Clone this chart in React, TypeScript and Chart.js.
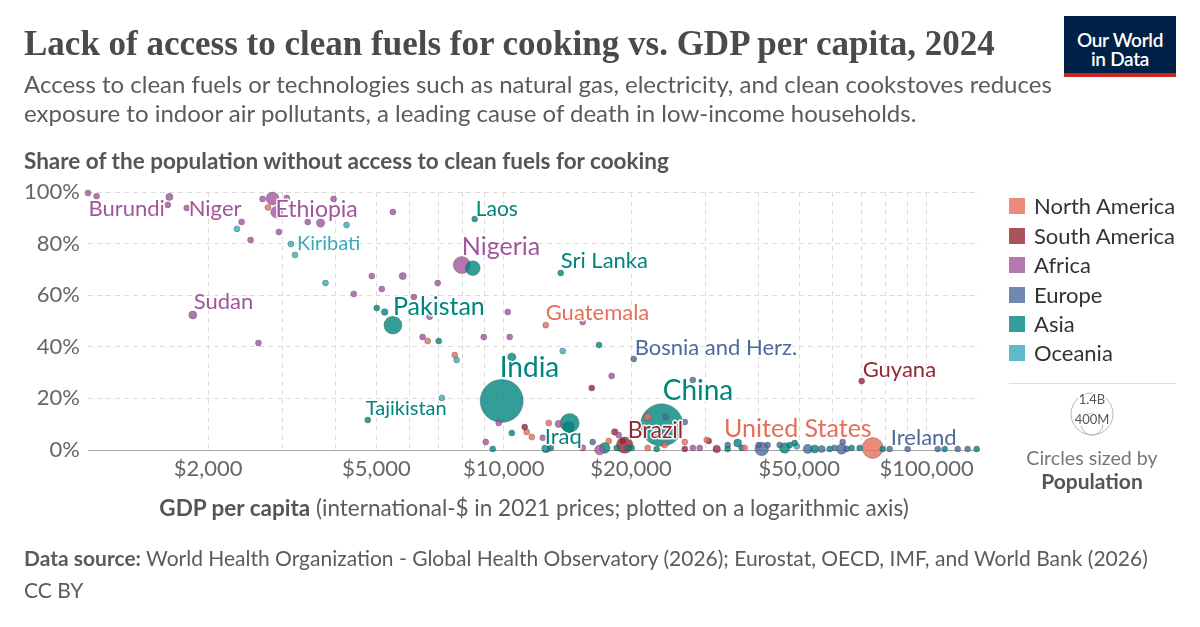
import React, { useEffect, useRef } from 'react';
import { Chart, registerables } from 'chart.js';

Chart.register(...registerables);

// [GDP per capita (int.-$ 2021), share without clean cooking fuels (%), population (millions), label?]
type Pt = [number, number, number, string?];

const continentNames = ['North America', 'South America', 'Africa', 'Europe', 'Asia', 'Oceania'];
const continentColors = ['#E56E5A', '#932834', '#A2559C', '#4C6A9C', '#00847E', '#38AABA'];

const northAmerica: Pt[] = [
  [2770, 94.0, 12], [12570, 48.4, 18, 'Guatemala'], [6610, 42.2, 10], [7660, 36.8, 10],
  [11330, 7.0, 10], [11650, 5.0, 10], [12780, 10.5, 10], [17720, 3.5, 10], [21900, 0.8, 10],
  [24020, 1.9, 10], [26800, 3.1, 10], [30200, 3.9, 10], [37130, 0.8, 10], [21900, 12.8, 45],
  [74540, 0.8, 345, 'United States'],
];

const southAmerica: Pt[] = [
  [70200, 26.7, 1, 'Guyana'], [16150, 24.0, 10], [11210, 8.9, 10], [18300, 7.0, 34],
  [19110, 3.5, 10], [19320, 1.9, 212, 'Brazil'], [26800, 0.4, 15], [30530, 3.5, 15], [31890, 0.4, 45],
];

const africa: Pt[] = [
  [1040, 99.6, 12], [1090, 98.4, 15], [1620, 98.1, 40], [1606, 95.0, 14, 'Burundi'],
  [1780, 93.8, 27, 'Niger'], [2690, 97.3, 15], [2840, 97.5, 130, 'Ethiopia'], [3070, 97.7, 15],
  [2905, 92.2, 110], [3440, 88.4, 20], [3690, 88.0, 55], [3960, 97.3, 15], [5470, 92.2, 15],
  [2400, 88.4, 15], [2520, 81.4, 15], [2940, 84.5, 15], [4875, 67.4, 15], [5150, 62.4, 15],
  [4420, 60.5, 15], [1840, 52.3, 50, 'Sudan'], [7960, 71.7, 230, 'Nigeria'], [5770, 67.4, 40],
  [6980, 64.7, 15], [6130, 59.3, 15], [6680, 51.6, 15], [10220, 53.5, 15], [15370, 49.6, 15],
  [6430, 43.8, 20], [8970, 43.8, 25], [10330, 43.8, 15], [2630, 41.5, 15], [18000, 28.7, 15],
  [9730, 10.5, 20], [9070, 3.1, 25], [12370, 4.7, 15], [13490, 10.1, 40], [12710, 0.4, 15],
  [15370, 0.8, 30], [16860, 0.0, 80], [18700, 5.8, 15], [28000, 0.8, 15], [29070, 0.8, 15],
];

const europe: Pt[] = [
  [20290, 35.3, 3, 'Bosnia and Herz.'], [28000, 27.1, 5], [16230, 3.1, 15], [24160, 12.8, 15],
  [26800, 10.9, 15], [33850, 1.9, 15], [40740, 0.4, 145], [40070, 1.9, 10], [42070, 1.9, 10],
  [44930, 1.9, 10], [52330, 0.4, 68], [56470, 0.4, 40], [60610, 0.8, 15], [62950, 0.4, 84],
  [63300, 3.1, 10], [64700, 0.4, 15], [81770, 0.4, 10], [90180, 0.4, 10], [106200, 0.4, 5],
  [118400, 0.4, 5, 'Ireland'], [125000, 0.4, 5],
];

const asia: Pt[] = [
  [8540, 89.5, 7, 'Laos'], [8450, 70.5, 173], [13640, 68.6, 22, 'Sri Lanka'], [5010, 55.0, 15],
  [5230, 53.5, 35], [5470, 48.4, 250, 'Pakistan'], [7020, 42.2, 15], [16800, 40.7, 15],
  [10450, 36.0, 55], [4770, 11.6, 10, 'Tajikistan'], [9890, 19.0, 1450, 'India'], [10450, 6.6, 15],
  [9420, 0.4, 15], [14320, 10.5, 283], [14240, 8.9, 100], [12570, 0.4, 46, 'Iraq'],
  [12920, 0.8, 15], [17330, 0.8, 90], [18500, 0.8, 15], [19640, 0.8, 15], [20070, 0.8, 15],
  [23630, 9.7, 1410, 'China'], [23000, 0.4, 15], [33850, 0.4, 15], [35740, 2.7, 50],
  [36530, 0.8, 15], [46170, 0.8, 87], [47440, 1.9, 15], [48750, 2.7, 15], [54360, 0.4, 50],
  [58980, 0.4, 15], [66480, 0.8, 15], [69440, 0.8, 15], [78700, 0.4, 15], [110300, 0.4, 15],
  [131300, 0.4, 10],
];

const oceania: Pt[] = [
  [2340, 85.7, 10], [3140, 79.8, 5, 'Kiribati'], [3210, 75.6, 5], [3790, 64.7, 5], [4250, 87.2, 5],
  [7740, 34.9, 5], [13790, 38.4, 5], [7140, 20.2, 5], [12500, 0.8, 5], [49280, 1.5, 27],
];

const continentData: Pt[][] = [northAmerica, southAmerica, africa, europe, asia, oceania];

const xGridValues = [2000, 3000, 4000, 5000, 6000, 7000, 8000, 9000, 10000, 20000, 30000, 40000, 50000, 60000, 70000, 80000, 90000, 100000];
const xLabelValues = [2000, 5000, 10000, 20000, 50000, 100000];
const xLabelTexts = ['$2,000', '$5,000', '$10,000', '$20,000', '$50,000', '$100,000'];
const yTickValues = [0, 20, 40, 60, 80, 100];

// label placement relative to its bubble (pixels)
const labelStyle: Record<string, { dx: number; dy: number; size: number; align?: CanvasTextAlign }> = {
  'Burundi': { dx: -3, dy: 4, size: 22, align: 'right' },
  'Niger': { dx: 2, dy: 1, size: 22 },
  'Ethiopia': { dx: 3, dy: 11, size: 23 },
  'Kiribati': { dx: 6, dy: -1, size: 20 },
  'Sudan': { dx: 1, dy: -13, size: 22 },
  'Laos': { dx: 1, dy: -10, size: 21 },
  'Nigeria': { dx: 0, dy: -18, size: 25 },
  'Sri Lanka': { dx: 0, dy: -12, size: 22 },
  'Pakistan': { dx: 0, dy: -18, size: 25 },
  'Guatemala': { dx: 0, dy: -12, size: 22 },
  'Bosnia and Herz.': { dx: 1, dy: -11, size: 22 },
  'India': { dx: -2, dy: -33, size: 28 },
  'China': { dx: 1, dy: -34, size: 28 },
  'Tajikistan': { dx: -2, dy: -12, size: 20 },
  'Iraq': { dx: -1, dy: -12, size: 22 },
  'Brazil': { dx: 3, dy: -15, size: 23 },
  'United States': { dx: -1, dy: -19, size: 25, align: 'right' },
  'Ireland': { dx: -1, dy: -11, size: 22, align: 'right' },
  'Guyana': { dx: 1, dy: -11, size: 22 },
};

function rgba(hex: string, a: number) {
  const n = parseInt(hex.slice(1), 16);
  return `rgba(${(n >> 16) & 255},${(n >> 8) & 255},${n & 255},${a})`;
}

function radiusFor(pop: number) {
  return Math.max(3, 21.5 * Math.sqrt(pop / 1450));
}

type FullPt = { x: number; y: number; r: number; pop: number; name?: string; color: string };

const allPoints: FullPt[] = continentData
  .flatMap((arr, ci) => arr.map((p) => ({ x: p[0], y: p[1], r: radiusFor(p[2]), pop: p[2], name: p[3], color: continentColors[ci] })))
  .sort((a, b) => b.pop - a.pop);

const labelPlugin = {
  id: 'countryLabels',
  afterDatasetsDraw(chart: any) {
    const ctx = chart.ctx as CanvasRenderingContext2D;
    const xs = chart.scales.x;
    const ys = chart.scales.y;
    allPoints.forEach((p) => {
      if (!p.name) return;
      const st = labelStyle[p.name];
      if (!st) return;
      const px = xs.getPixelForValue(p.x) + st.dx;
      const py = ys.getPixelForValue(p.y) + st.dy;
      ctx.save();
      ctx.font = `${st.size}px Lato`;
      ctx.textAlign = st.align || 'left';
      ctx.textBaseline = 'middle';
      ctx.lineJoin = 'round';
      ctx.lineWidth = 3;
      ctx.strokeStyle = 'rgba(255,255,255,0.9)';
      ctx.strokeText(p.name, px, py);
      ctx.fillStyle = p.color;
      ctx.fillText(p.name, px, py);
      ctx.restore();
    });
  },
};

const txt = '#5b5b5b';

export default function App() {
  const ref = useRef<HTMLCanvasElement | null>(null);

  useEffect(() => {
    if (!ref.current) return;
    Chart.defaults.font.family = 'Lato';
    const chart = new Chart(ref.current, {
      type: 'bubble',
      data: {
        datasets: [
          {
            data: allPoints.map((p) => ({ x: p.x, y: p.y, r: p.r })),
            backgroundColor: allPoints.map((p) => rgba(p.color, 0.8)),
            borderColor: 'rgba(60,60,60,0.45)',
            borderWidth: 0.7,
            hoverRadius: 0,
            clip: false as any,
          },
        ],
      },
      options: {
        responsive: false,
        animation: false,
        events: [],
        layout: { padding: { left: 0, top: 192, right: 220, bottom: 137 } },
        plugins: { legend: { display: false }, tooltip: { enabled: false } },
        scales: {
          x: {
            type: 'logarithmic',
            min: 1040,
            max: 133700,
            bounds: 'data',
            afterBuildTicks: (axis: any) => {
              axis.ticks = xGridValues.map((v) => ({ value: v }));
            },
            afterFit: (axis: any) => {
              axis.height = 40;
            },
            ticks: {
              autoSkip: false,
              maxRotation: 0,
              padding: 6,
              color: '#666',
              font: { size: 22, family: 'Lato' },
              callback: (v: any) => {
                const i = xLabelValues.indexOf(Number(v));
                return i >= 0 ? xLabelTexts[i] : '';
              },
            },
            grid: { color: '#dcdcdc', lineWidth: 1, drawTicks: false },
            border: { display: false, dash: [5, 4] },
          },
          y: {
            type: 'linear',
            min: 0,
            max: 100,
            afterBuildTicks: (axis: any) => {
              axis.ticks = yTickValues.map((v) => ({ value: v }));
            },
            afterFit: (axis: any) => {
              axis.width = 88;
            },
            ticks: {
              padding: 8,
              color: '#666',
              font: { size: 22, family: 'Lato' },
              callback: (v: any) => `${v}%`,
            },
            grid: {
              drawTicks: false,
              lineWidth: 1,
              color: (c: any) => (c.tick && c.tick.value === 0 ? '#a6a6a6' : '#dcdcdc'),
            },
            border: {
              display: false,
              dash: (c: any) => (c.tick && c.tick.value === 0 ? [] : [5, 4]),
            },
          },
        },
      },
      plugins: [labelPlugin],
    } as any);
    return () => chart.destroy();
  }, []);

  const abs = (s: React.CSSProperties): React.CSSProperties => ({ position: 'absolute', margin: 0, whiteSpace: 'nowrap', ...s });
  const legendRowY = [206, 236, 265, 295, 324, 353];

  return (
    <div style={{ position: 'absolute', left: 0, top: 0, width: 1200, height: 627, background: '#fff', overflow: 'hidden', fontFamily: 'Lato, sans-serif' }}>
      <canvas ref={ref} width={1200} height={627} style={{ position: 'absolute', left: 0, top: 0, width: 1200, height: 627 }} />

      <div style={abs({ left: 24, top: 22, fontFamily: '"Liberation Serif", serif', fontWeight: 700, fontSize: 35, lineHeight: '44px', color: '#4a4a4a' })}>
        Lack of access to clean fuels for cooking vs. GDP per capita, 2024
      </div>
      <div style={abs({ left: 24, top: 69, fontSize: 24, lineHeight: '29px', color: txt })}>
        Access to clean fuels or technologies such as natural gas, electricity, and clean cookstoves reduces
        <br />
        exposure to indoor air pollutants, a leading cause of death in low-income households.
      </div>

      <div style={abs({ left: 1064, top: 16, width: 112, height: 61, background: '#002147' })}>
        <div style={abs({ left: 0, top: 14, width: 112, textAlign: 'center', color: '#fff', fontSize: 19, lineHeight: '19px', fontWeight: 600, letterSpacing: -0.3 })}>
          Our World
          <br />
          in Data
        </div>
        <div style={abs({ left: 0, bottom: 0, width: 112, height: 4, background: '#ce261e' })} />
      </div>

      <div style={abs({ left: 24, top: 148, fontSize: 22.5, lineHeight: '26px', fontWeight: 700, color: '#555' })}>
        Share of the population without access to clean fuels for cooking
      </div>

      <div style={abs({ left: 0, top: 495, width: 1068, textAlign: 'center', fontSize: 22.5, lineHeight: '26px', color: txt })}>
        <b style={{ color: '#555' }}>GDP per capita</b> (international-$ in 2021 prices; plotted on a logarithmic axis)
      </div>

      {continentNames.map((n, i) => (
        <React.Fragment key={n}>
          <div style={abs({ left: 1009, top: legendRowY[i] - 8, width: 16, height: 16, background: rgba(continentColors[i], 0.8) })} />
          <div style={abs({ left: 1034, top: legendRowY[i] - 13, fontSize: 22, lineHeight: '26px', color: '#333' })}>{n}</div>
        </React.Fragment>
      ))}
      <div style={abs({ left: 1009, top: 383, width: 167, height: 1, background: '#ddd' })} />
      <svg style={{ position: 'absolute', left: 1060, top: 388, overflow: 'visible' }} width={64} height={50}>
        <circle cx={32} cy={26} r={21} fill="none" stroke="#b8b8b8" strokeWidth={1} />
        <circle cx={32} cy={36} r={11} fill="none" stroke="#b8b8b8" strokeWidth={1} />
        <text x={32} y={13} textAnchor="middle" dominantBaseline="middle" fontSize={13} fill="#555" stroke="#fff" strokeWidth={3} paintOrder="stroke" fontFamily="Lato">1.4B</text>
        <text x={32} y={33} textAnchor="middle" dominantBaseline="middle" fontSize={13} fill="#555" stroke="#fff" strokeWidth={3} paintOrder="stroke" fontFamily="Lato">400M</text>
      </svg>
      <div style={abs({ left: 992, top: 445, width: 200, textAlign: 'center', fontSize: 19.6, lineHeight: '26px', color: '#777' })}>Circles sized by</div>
      <div style={abs({ left: 992, top: 468, width: 200, textAlign: 'center', fontSize: 21, lineHeight: '26px', fontWeight: 700, color: '#555' })}>Population</div>

      <div style={abs({ left: 24, top: 545, fontSize: 21, lineHeight: '26px', color: txt })}>
        <b>Data source:</b> World Health Organization - Global Health Observatory (2026); Eurostat, OECD, IMF, and World Bank (2026)
      </div>
      <div style={abs({ left: 24, top: 577, fontSize: 21, lineHeight: '26px', color: txt })}>CC BY</div>
    </div>
  );
}
